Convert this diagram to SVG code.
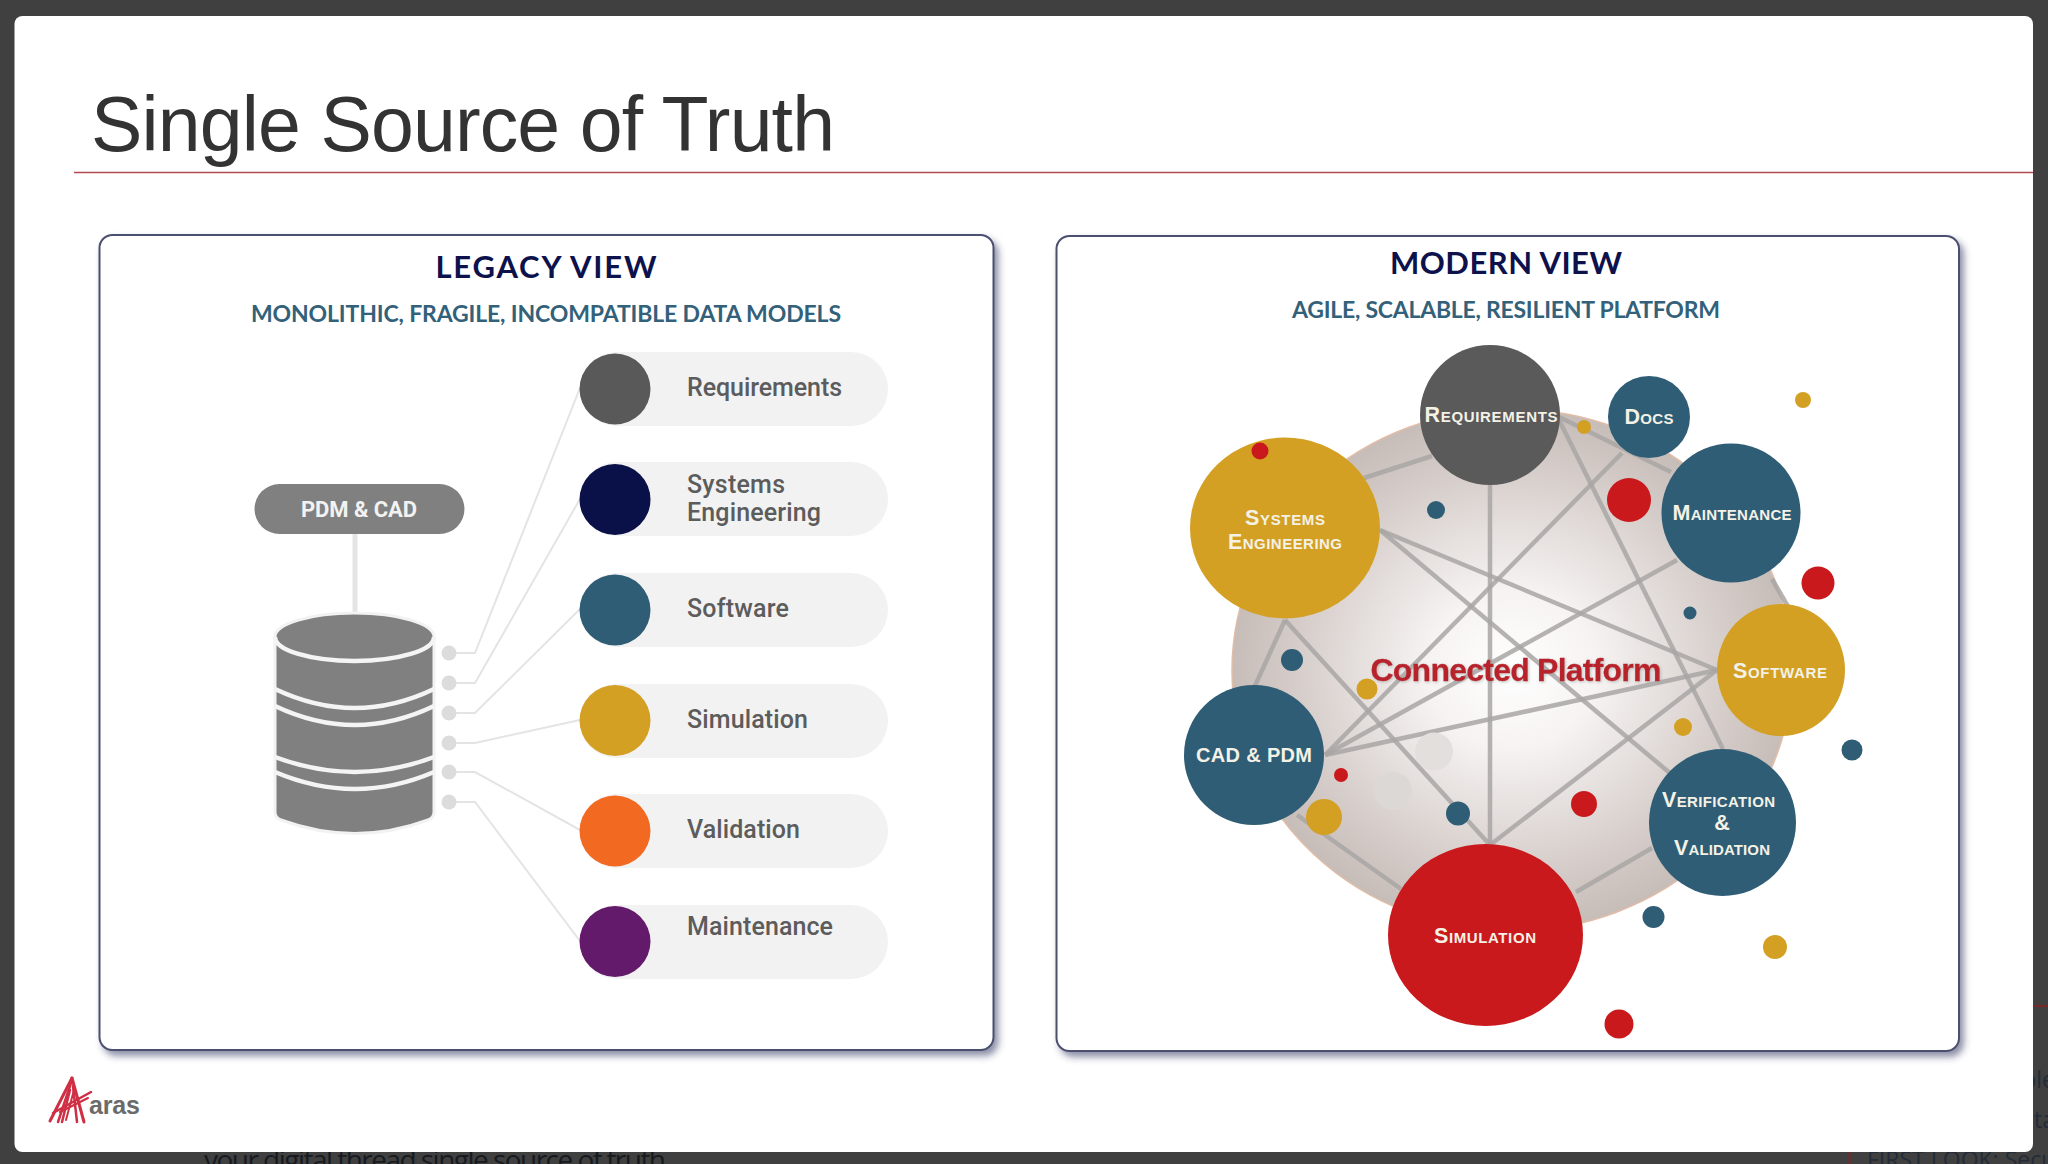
<svg xmlns="http://www.w3.org/2000/svg" width="2048" height="1164" viewBox="0 0 2048 1164">
<style>
.panel{fill:#fff;stroke:#4b4f70;stroke-width:2}
.hd{font-family:"Lato","Liberation Sans",sans-serif;font-weight:700;fill:#0d124c;text-anchor:middle;font-size:31px}
.sub{font-family:"Lato","Liberation Sans",sans-serif;font-weight:700;fill:#33617a;text-anchor:middle;font-size:23px}
.pill{fill:#f2f2f2}
.lbl{font-family:"Roboto","Liberation Sans",sans-serif;font-weight:500;fill:#5c5c5c;font-size:25px}
.dot{fill:#dcdcdc}
.lg{fill:none;stroke:#e4e4e4;stroke-width:2}
.web{stroke:#a8a6a4;stroke-width:4.500;stroke-opacity:.85;fill:none}
.sc{font-family:"Liberation Sans",sans-serif;font-weight:700;fill:#f4f1e6;text-anchor:middle;font-variant:small-caps;font-size:21.500px;dominant-baseline:central}
.teal{fill:#2f5d75}.gold{fill:#d3a024}.red{fill:#c9191c}
.band{fill:none;stroke:#f4f4f4;stroke-width:4.500}
.ghost{font-family:"Open Sans","Liberation Sans",sans-serif;fill:#161a1f;font-size:28px}
.ghost2{font-family:"Open Sans","Liberation Sans",sans-serif;fill:#232c38;font-size:23px}
</style>
<defs>
<radialGradient id="sph" cx="50%" cy="50%" r="50%"><stop offset="0" stop-color="#ffffff"/><stop offset=".3" stop-color="#f6f3f2"/><stop offset=".72" stop-color="#d9d1ce"/><stop offset="1" stop-color="#c6bcb8"/></radialGradient>
<filter id="sh" x="-5%" y="-5%" width="112%" height="112%"><feDropShadow dx="4" dy="5" stdDeviation="3.500" flood-color="#30355f" flood-opacity=".55"/></filter>
<filter id="glow" x="-10%" y="-30%" width="120%" height="160%"><feDropShadow dx="1" dy="1" stdDeviation="1.500" flood-color="#9a9a9a" flood-opacity=".6"/></filter>
</defs>
<rect id="backdrop" width="2048" height="1164" fill="#404040"/>
<g id="behind">
<text class="ghost" x="204" y="1170" textLength="462">your digital thread single source of truth</text>
<line x1="1849.500" y1="1150" x2="1849.500" y2="1164" stroke="#7a2626" stroke-width="2"/>
<line x1="2030" y1="1006" x2="2048" y2="1006" stroke="#7a2626" stroke-width="2"/>
<text class="ghost2" x="1867" y="1168">FIRST LOOK: Secure</text>
<text class="ghost2" x="2055" y="1088" text-anchor="end">able</text>
<text class="ghost2" x="2055" y="1128" text-anchor="end">data</text>
</g>
<rect id="slide" x="14.500" y="16" width="2018.500" height="1136" rx="8" fill="#fff"/>
<g id="header">
<text x="91" y="151" font-family="Liberation Sans, Arial, sans-serif" font-size="77" fill="#333" textLength="744">Single Source of Truth</text>
<line x1="74" y1="172.500" x2="2033" y2="172.500" stroke="#b04a50" stroke-width="1.500"/>
</g>
<g id="legacy-panel">
<rect class="panel" x="99.500" y="235" width="894" height="815" rx="13" filter="url(#sh)"/>
<text class="hd" x="546" y="278" textLength="221">LEGACY VIEW</text>
<text class="sub" x="546" y="322" textLength="590">MONOLITHIC, FRAGILE, INCOMPATIBLE DATA MODELS</text>
</g>
<g id="legacy-connectors">
<line x1="355" y1="533" x2="355" y2="612" stroke="#e4e4e4" stroke-width="5"/>
<path class="lg" d="M449 653H475L580 388"/>
<path class="lg" d="M449 683H475L580 499"/>
<path class="lg" d="M449 713H475L580 609"/>
<path class="lg" d="M449 743H475L580 720"/>
<path class="lg" d="M449 772H475L580 830"/>
<path class="lg" d="M449 802H475L580 941"/>
<circle class="dot" cx="449" cy="653" r="7.500"/><circle class="dot" cx="449" cy="683" r="7.500"/><circle class="dot" cx="449" cy="713" r="7.500"/><circle class="dot" cx="449" cy="743" r="7.500"/><circle class="dot" cx="449" cy="772" r="7.500"/><circle class="dot" cx="449" cy="802" r="7.500"/>
</g>
<g id="pdm-cad">
<rect x="254.500" y="484" width="210" height="50" rx="25" fill="#808080"/>
<text x="359" y="517" font-family="Roboto, Liberation Sans, sans-serif" font-weight="700" font-size="22" fill="#f2f2f2" text-anchor="middle" textLength="116">PDM &amp; CAD</text>
</g>
<g id="database">
<path d="M275 637A79.500 24 0 0 1 434 637V812Q434 818 428 820Q355 847 281 820Q275 818 275 812Z" fill="#808080" stroke="#f2f2f2" stroke-width="3"/>
<path class="band" d="M275 637A79.500 24 0 0 0 434 637"/>
<path class="band" d="M275 689Q355 727 434 689"/>
<path class="band" d="M275 706Q355 744 434 706"/>
<path class="band" d="M275 757Q355 787 434 757"/>
<path class="band" d="M275 772Q355 806 434 772"/>
</g>
<g id="legacy-requirements"><rect class="pill" x="580" y="352" width="308" height="74" rx="37"/><circle cx="615" cy="389" r="35.500" fill="#595959"/><text class="lbl" x="687" y="396" textLength="155">Requirements</text></g>
<g id="legacy-systems"><rect class="pill" x="580" y="462" width="308" height="74" rx="37"/><circle cx="615" cy="499.500" r="35.500" fill="#0a1048"/><text class="lbl" x="687" y="493" textLength="98">Systems</text><text class="lbl" x="687" y="521" textLength="134">Engineering</text></g>
<g id="legacy-software"><rect class="pill" x="580" y="573" width="308" height="74" rx="37"/><circle cx="615" cy="610" r="35.500" fill="#2f5d75"/><text class="lbl" x="687" y="617" textLength="102">Software</text></g>
<g id="legacy-simulation"><rect class="pill" x="580" y="684" width="308" height="74" rx="37"/><circle cx="615" cy="720.500" r="35.500" fill="#d3a024"/><text class="lbl" x="687" y="728" textLength="121">Simulation</text></g>
<g id="legacy-validation"><rect class="pill" x="580" y="794" width="308" height="74" rx="37"/><circle cx="615" cy="831" r="35.500" fill="#f26a21"/><text class="lbl" x="687" y="838" textLength="113">Validation</text></g>
<g id="legacy-maintenance"><rect class="pill" x="580" y="905" width="308" height="74" rx="37"/><circle cx="615" cy="941.500" r="35.500" fill="#641a6b"/><text class="lbl" x="687" y="935" textLength="146">Maintenance</text></g>
<g id="modern-panel">
<rect class="panel" x="1056.500" y="236" width="902.500" height="815" rx="13" filter="url(#sh)"/>
<text class="hd" x="1506" y="274" textLength="232">MODERN VIEW</text>
<text class="sub" x="1506" y="318" textLength="428">AGILE, SCALABLE, RESILIENT PLATFORM</text>
</g>
<ellipse id="sphere" cx="1512" cy="670" rx="280" ry="261" fill="url(#sph)" stroke="#e2bda8" stroke-width="1.500"/>
<g id="connectors">
<line class="web" x1="1490" y1="485" x2="1490" y2="848"/>
<line class="web" x1="1364" y1="478" x2="1432" y2="456"/>
<line class="web" x1="1380" y1="530" x2="1717" y2="670"/>
<line class="web" x1="1285" y1="620" x2="1490" y2="845"/>
<line class="web" x1="1285" y1="620" x2="1254" y2="688"/>
<line class="web" x1="1380" y1="530" x2="1671" y2="774"/>
<line class="web" x1="1559" y1="420" x2="1723" y2="749"/>
<line class="web" x1="1559" y1="417" x2="1671" y2="472"/>
<line class="web" x1="1622" y1="453" x2="1325" y2="755"/>
<line class="web" x1="1677" y1="560" x2="1325" y2="755"/>
<line class="web" x1="1717" y1="670" x2="1325" y2="755"/>
<line class="web" x1="1717" y1="670" x2="1490" y2="845"/>
<line class="web" x1="1576" y1="892" x2="1652" y2="848"/>
<line class="web" x1="1297" y1="815" x2="1401" y2="889"/>
<line class="web" x1="1772" y1="579" x2="1790" y2="610"/>
</g>
<g id="specks">
<circle cx="1434" cy="751.500" r="19" fill="#e3dfdd"/><circle cx="1393" cy="791" r="19" fill="#dcd8d6"/>
<circle class="teal" cx="1436" cy="510" r="9"/><circle class="gold" cx="1584" cy="427" r="7"/><circle class="gold" cx="1803" cy="400" r="8"/>
<circle class="red" cx="1629" cy="500" r="22"/><circle class="red" cx="1818" cy="583" r="16.500"/><circle class="teal" cx="1690" cy="613" r="6.500"/>
<circle class="teal" cx="1292" cy="660" r="11"/><circle class="gold" cx="1367" cy="689" r="10.500"/><circle class="teal" cx="1852" cy="750" r="10.500"/>
<circle class="gold" cx="1683" cy="727" r="9"/><circle class="red" cx="1341" cy="775" r="7"/><circle class="gold" cx="1324" cy="817" r="18"/>
<circle class="teal" cx="1458" cy="813.500" r="12"/><circle class="red" cx="1584" cy="804" r="13"/><circle class="teal" cx="1653.500" cy="917" r="11"/>
<circle class="gold" cx="1775" cy="947" r="12"/><circle class="red" cx="1619" cy="1024" r="14.500"/>
</g>
<g id="requirements"><circle cx="1490" cy="415" r="70" fill="#5a5a5a"/><text class="sc" x="1491" y="415" textLength="133">Requirements</text></g>
<g id="docs"><circle class="teal" cx="1649" cy="417" r="41"/><text class="sc" x="1649" y="417" textLength="49">Docs</text></g>
<g id="maintenance"><circle class="teal" cx="1731" cy="513" r="69.500"/><text class="sc" x="1732" y="513" textLength="119">Maintenance</text></g>
<g id="systems-engineering"><ellipse class="gold" cx="1285" cy="528" rx="95" ry="90.500"/><circle class="red" cx="1260" cy="451" r="8.500"/><text class="sc" x="1285" y="518" textLength="80">Systems</text><text class="sc" x="1285" y="542" textLength="114">Engineering</text></g>
<g id="software"><ellipse class="gold" cx="1781" cy="670" rx="64" ry="66"/><text class="sc" x="1780" y="671" textLength="94">Software</text></g>
<g id="cad-pdm"><circle class="teal" cx="1254" cy="755" r="70"/><text class="sc" x="1254" y="755" style="font-variant:normal;font-size:20px" textLength="116">CAD &amp; PDM</text></g>
<g id="verification-validation"><circle class="teal" cx="1722.500" cy="822.500" r="73.500"/><text class="sc" x="1718.500" y="800" textLength="113">Verification</text><text class="sc" x="1722" y="823">&amp;</text><text class="sc" x="1722" y="848" textLength="96">Validation</text></g>
<g id="simulation"><ellipse class="red" cx="1485.500" cy="935" rx="97.500" ry="91"/><text class="sc" x="1485" y="936" textLength="102">Simulation</text></g>
<text id="connected-platform" x="1516" y="681" font-family="Liberation Sans, sans-serif" font-weight="700" font-size="32" fill="#b8212b" stroke="#b8212b" stroke-width=".3" text-anchor="middle" textLength="291" filter="url(#glow)">Connected Platform</text>
<g id="aras-logo">
<g fill="none" stroke="#cf2f45" stroke-linecap="round">
<path d="M72 1078L50 1121" stroke-width="3"/><path d="M72 1080L58 1122" stroke-width="2.500"/><path d="M72 1078L84 1122" stroke-width="3"/><path d="M73 1086L77 1122" stroke-width="2.500"/><path d="M53 1113L91 1092" stroke-width="2.500"/><path d="M60 1112L88 1098" stroke-width="2"/><path d="M62 1122L70 1090" stroke-width="2.500"/><path d="M66 1120L74 1090" stroke-width="2"/>
</g>
<text x="89" y="1114" font-family="Liberation Sans, sans-serif" font-weight="700" font-size="25" fill="#6b6b6b" textLength="51">aras</text>
</g>
</svg>
